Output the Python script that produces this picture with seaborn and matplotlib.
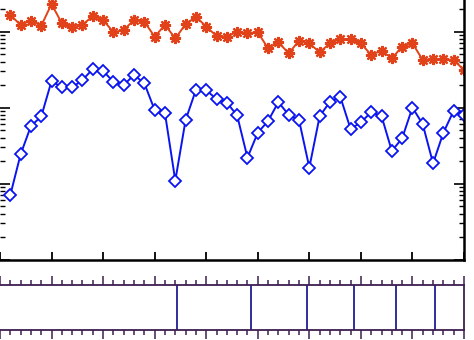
import numpy as np
import pandas as pd
import matplotlib
matplotlib.use("Agg")
import matplotlib.pyplot as plt
from matplotlib.ticker import MultipleLocator, LogLocator, NullFormatter
import seaborn as sns

sns.set_theme(style="ticks")
plt.rcParams['font.family'] = ['DejaVu Sans']

# ---- data ----
steps = list(range(1, 46))
series_a = [1650, 1220, 1390, 1190, 2300, 1280, 1140, 1220, 1600, 1420,
            976, 1047, 1420, 1346, 854, 1220, 814, 1244, 1566, 1157,
            873, 854, 994, 947, 976, 601, 721, 517, 757, 699,
            532, 699, 797, 789, 699, 491, 559, 444, 631, 699,
            422, 431, 431, 422, 311]
series_b = [7.06, 24.2, 57.1, 76.2, 223, 184, 184, 230, 321, 302,
            218, 198, 268, 208, 92.7, 83.9, 10.9, 68.5, 170, 170,
            128, 116, 78.5, 21.9, 46.6, 66.4, 118, 79.7, 68.5, 16.2,
            76.6, 119, 139, 52.1, 63.9, 86.7, 77.3, 26.8, 39.3, 100,
            60.1, 18.4, 46.6, 90.5, 79.7]
events = [17.14, 24.3, 29.8, 34.33, 38.44, 42.16]

df_a = pd.DataFrame({"step": steps, "value": series_a})
df_b = pd.DataFrame({"step": steps, "value": series_b})

W, H = 474, 340
fig = plt.figure(figsize=(W / 100, H / 100), dpi=100)

x_right = 464 / W
ax = fig.add_axes([0, (H - 259.5) / H, x_right, 259.5 / H])
ax.set_facecolor("white")

orange = "#e2421a"
blue = "#0a14f0"
sns.lineplot(data=df_a, x="step", y="value", ax=ax, color=orange,
             marker=(8, 2, 0), markersize=8, markeredgecolor=orange,
             markeredgewidth=1.6, linewidth=1.4)
sns.lineplot(data=df_b, x="step", y="value", ax=ax, color=blue,
             marker="D", markersize=6.5, markeredgecolor=blue,
             markerfacecolor="white", markeredgewidth=1.3, linewidth=1.4)

ax.set_yscale("log")
ax.set_xlim(0, 45)
ax.set_ylim(1, 10 ** (259.5 / 76))
ax.set_xlabel("")
ax.set_ylabel("")
ax.xaxis.set_major_locator(MultipleLocator(5))
ax.xaxis.set_minor_locator(plt.NullLocator())
ax.yaxis.set_major_locator(LogLocator(base=10))
ax.yaxis.set_minor_locator(LogLocator(base=10, subs=np.arange(2, 10)))
ax.xaxis.set_major_formatter(NullFormatter())
ax.yaxis.set_major_formatter(NullFormatter())
ax.yaxis.set_minor_formatter(NullFormatter())
ax.tick_params(axis="x", which="major", direction="in", length=6, width=1.3,
               color="black", bottom=True, top=False)
ax.tick_params(axis="y", which="major", direction="in", length=7, width=1.2,
               color="black", left=True, right=True)
ax.tick_params(axis="y", which="minor", direction="in", length=3.6, width=1.0,
               color="black", left=True, right=True)
for s in ("left", "top"):
    ax.spines[s].set_visible(False)
for s in ("bottom", "right"):
    ax.spines[s].set_linewidth(1.8)
    ax.spines[s].set_color("black")

# ---- event strip ----
strip_col = "#3d1f50"
ax2 = fig.add_axes([0, (H - 330) / H, x_right, 45 / H])
ax2.set_xlim(0, 45)
ax2.set_ylim(0, 1)
ax2.vlines(events, 0, 1, color="#2f2f9a", linewidth=1.4)
ax2.xaxis.set_major_locator(MultipleLocator(5))
ax2.xaxis.set_minor_locator(MultipleLocator(1))
ax2.xaxis.set_major_formatter(NullFormatter())
ax2.yaxis.set_major_locator(plt.NullLocator())
ax2.tick_params(axis="x", which="major", direction="out", length=6.5, width=1.1,
                color=strip_col, top=True, bottom=True)
ax2.tick_params(axis="x", which="minor", direction="out", length=3.3, width=1.1,
                color=strip_col, top=True, bottom=True)
ax2.spines["left"].set_visible(False)
for s in ("top", "bottom", "right"):
    ax2.spines[s].set_color(strip_col)
    ax2.spines[s].set_linewidth(1.3)

fig.savefig("out.png", dpi=100, facecolor="white")
